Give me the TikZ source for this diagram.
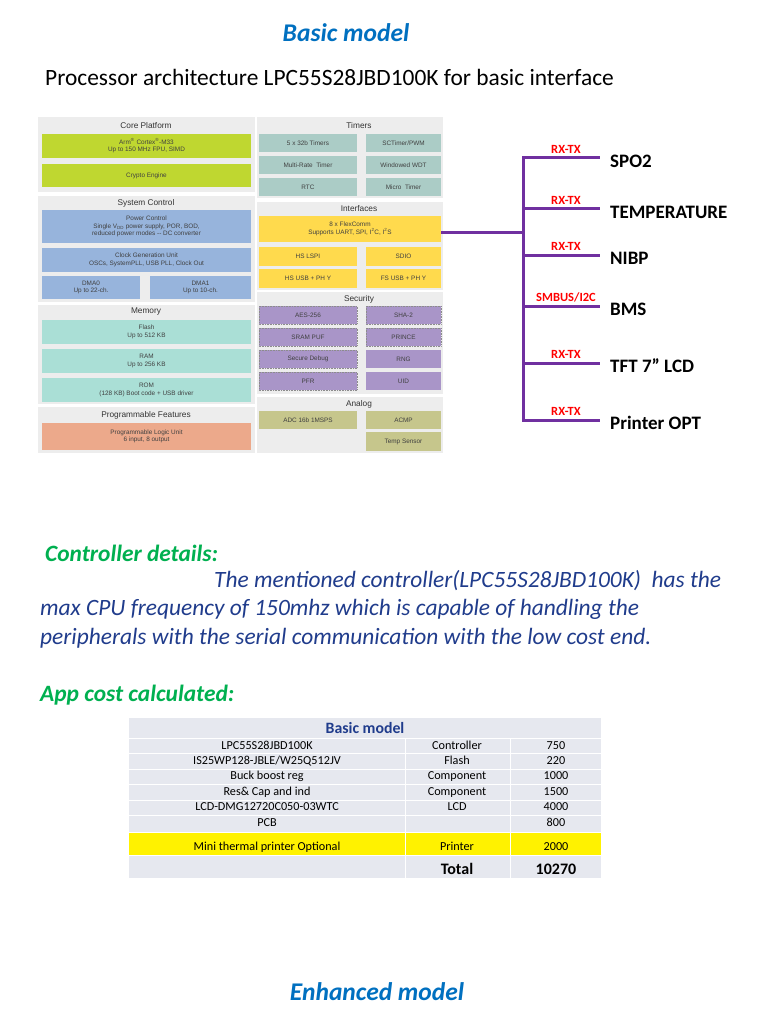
\documentclass[tikz,border=0pt]{standalone}
\usepackage{fontspec}
\setmainfont{Carlito}
\newfontfamily\arial{Liberation Sans}
\begin{document}
\begin{tikzpicture}[x=1pt,y=-1pt,
  tiny/.style={font=\arial\fontsize{6.4}{7.4}\selectfont, text=black!75, align=center, inner sep=0pt},
  hdr/.style={font=\arial\fontsize{8.3}{9}\selectfont, text=black!80, inner sep=0pt},
  lbl/.style={font=\bfseries\fontsize{19}{21}\selectfont, anchor=west, inner sep=0pt},
  red/.style={font=\bfseries\fontsize{12.5}{14}\selectfont, text=red, inner sep=0pt},
  bus/.style={draw=buspurple, line width=3pt},
  trow/.style={font=\fontsize{12.2}{14}\selectfont, inner sep=0pt, text height=8.5pt, text depth=2.5pt}]
\definecolor{panel}{HTML}{EDEDED}
\definecolor{cgreen}{HTML}{BFD730}
\definecolor{cblue}{HTML}{97B4DC}
\definecolor{cteal}{HTML}{AADFD6}
\definecolor{csalmon}{HTML}{ECA98B}
\definecolor{ctimer}{HTML}{ABCCC6}
\definecolor{cyellow}{HTML}{FFDA4D}
\definecolor{cpurple}{HTML}{A995C8}
\definecolor{colive}{HTML}{C6C68C}
\definecolor{buspurple}{HTML}{7030A0}
\definecolor{tblue}{HTML}{0070C0}
\definecolor{tgreen}{HTML}{00B050}
\definecolor{dblue}{HTML}{203C8C}
\definecolor{tbg}{HTML}{E6E8EF}
\useasboundingbox[fill=white] (0,0) rectangle (768,1024);
\newcommand\bx[6]{\fill[#5] (#1,#2) rectangle (#3,#4) node[midway,tiny]{#6};}
\newcommand\dbx[6]{\fill[#5] (#1,#2) rectangle (#3,#4) node[midway,tiny]{#6};\draw[black!45,densely dotted,line width=0.6pt] (#1,#2) rectangle (#3,#4);}
% titles
\node[font=\bfseries\itshape\fontsize{25.5}{28}\selectfont, text=tblue] (t1) at (346,33) {Basic model};
\node[anchor=west, font=\fontsize{23.4}{26}\selectfont, inner sep=0pt] (t2) at (45,77) {Processor architecture LPC55S28JBD100K for basic interface};
% left column panels
\fill[panel] (38,117) rectangle (255,192); \node[hdr] (h1) at (146,126) {Core Platform};
\bx{42}{134}{251}{158}{cgreen}{Arm\textsuperscript{®} Cortex\textsuperscript{®}-M33\\Up to 150 MHz FPU, SIMD}
\bx{42}{164}{251}{187}{cgreen}{Crypto Engine}
\fill[panel] (38,196) rectangle (255,302); \node[hdr] (h2) at (146,203) {System Control};
\bx{42}{210}{251}{243}{cblue}{Power Control\\Single V\textsubscript{DD} power supply, POR, BOD,\\reduced power modes -- DC converter}
\bx{42}{248}{251}{272}{cblue}{Clock Generation Unit\\OSCs, SystemPLL, USB PLL, Clock Out}
\bx{42}{276}{140}{299}{cblue}{DMA0\\Up to 22-ch.}
\bx{150}{276}{251}{299}{cblue}{DMA1\\Up to 10-ch.}
\fill[panel] (38,305) rectangle (255,404); \node[hdr] (h3) at (146,312) {Memory};
\bx{42}{320}{251}{344}{cteal}{Flash\\Up to 512 KB}
\bx{42}{349}{251}{373}{cteal}{RAM\\Up to 256 KB}
\bx{42}{378}{251}{402}{cteal}{ROM\\(128 KB) Boot code + USB driver}
\fill[panel] (38,407) rectangle (255,453); \node[hdr] (h4) at (146,415) {Programmable Features};
\bx{42}{423}{251}{450}{csalmon}{Programmable Logic Unit\\6 input, 8 output}
% right column
\fill[panel] (257,117) rectangle (443,198); \node[hdr] (h5) at (359,126) {Timers};
\bx{259}{134}{357}{152}{ctimer}{5 x 32b Timers}
\bx{366}{134}{441}{152}{ctimer}{SCTimer/PWM}
\bx{259}{156}{357}{174}{ctimer}{Multi-Rate\ \ Timer}
\bx{366}{156}{441}{174}{ctimer}{Windowed WDT}
\bx{259}{178}{357}{196}{ctimer}{RTC}
\bx{366}{178}{441}{196}{ctimer}{Micro\ \ Timer}
\fill[panel] (257,202) rectangle (443,290); \node[hdr] (h6) at (359,209) {Interfaces};
\fill[cyellow] (259,216) rectangle (441,242);
\node[tiny] (fc) at (350,229) {8 x FlexComm\\Supports UART, SPI, I\textsuperscript{2}C, I\textsuperscript{2}S};
\coordinate (fcout) at (441,233);
\bx{259}{247}{357}{266}{cyellow}{HS LSPI}
\bx{366}{247}{441}{266}{cyellow}{SDIO}
\bx{259}{269}{357}{288}{cyellow}{HS USB + PH Y}
\bx{366}{269}{441}{288}{cyellow}{FS USB + PH Y}
\fill[panel] (257,292) rectangle (443,394); \node[hdr] (h7) at (359,299) {Security};
\dbx{259}{306}{357}{324}{cpurple}{AES-256}
\dbx{366}{306}{441}{324}{cpurple}{SHA-2}
\dbx{259}{328}{357}{346}{cpurple}{SRAM PUF}
\dbx{366}{328}{441}{346}{cpurple}{PRINCE}
\dbx{259}{350}{357}{368}{cpurple}{Secure Debug}
\bx{366}{350}{441}{368}{cpurple}{RNG}
\dbx{259}{372}{357}{390}{cpurple}{PFR}
\bx{366}{372}{441}{390}{cpurple}{UID}
\fill[panel] (257,397) rectangle (443,453); \node[hdr] (h8) at (359,404) {Analog};
\bx{259}{411}{357}{429}{colive}{ADC 16b 1MSPS}
\bx{366}{411}{441}{429}{colive}{ACMP}
\bx{366}{432}{441}{451}{colive}{Temp Sensor}
% bus
\coordinate (jn) at (523,233);
\coordinate (top) at (523,158);
\coordinate (bot) at (523,420);
\draw[bus] (fcout) -- (jn);
\draw[bus,line cap=rect] (top) -- (bot);
\foreach \y/\n/\r/\t in {158/a/RX-TX/SPO2, 209/b/RX-TX/TEMPERATURE, 255/c/RX-TX/NIBP, 306/d/{SMBUS/I2C}/BMS, 363/e/RX-TX/{TFT 7” LCD}, 420/f/RX-TX/{Printer OPT}}{
  \coordinate (s\n) at (523,\y);
  \coordinate (e\n) at (600,\y);
  \draw[bus] (s\n) -- (e\n);
  \node[red] (r\n) at (566,\y-9) {\r};
  \node[lbl] (l\n) at (610,\y+3) {\t};
}
% controller details
\node[anchor=west, font=\bfseries\itshape\fontsize{23.4}{26}\selectfont, text=tgreen, inner sep=0pt] (cd) at (45,553) {Controller details:};
\begin{scope}[every node/.style={anchor=west, font=\itshape\fontsize{23.4}{26}\selectfont, text=dblue, inner sep=0pt}]
\node (p1) at (214,581) {The mentioned controller(LPC55S28JBD100K)\ \ has the};
\node (p2) at (40,609) {max CPU frequency of 150mhz which is capable of handling the};
\node (p3) at (40,638) {peripherals with the serial communication with the low cost end.};
\end{scope}
\node[anchor=west, font=\bfseries\itshape\fontsize{23.4}{26}\selectfont, text=tgreen, inner sep=0pt] (ac) at (40,695) {App cost calculated:};
% table
\fill[tbg] (129,718) rectangle (601,878);
\fill[yellow] (129,832) rectangle (601,855);
\foreach \y in {738,753,769,784,800,815,832,855}{\draw[white,line width=1pt] (129,\y) -- (601,\y);}
\draw[white,line width=1pt] (405,738) -- (405,878);
\draw[white,line width=1pt] (510,738) -- (510,878);
\node[font=\bfseries\fontsize{15.8}{17}\selectfont, text=dblue] (th) at (365,728) {Basic model};
\foreach \y/\a/\b/\c [count=\i] in {746/LPC55S28JBD100K/Controller/750, 761/{IS25WP128-JBLE/W25Q512JV}/Flash/220, 776/Buck boost reg/Component/1000, 792/Res\& Cap and ind/Component/1500, 807/LCD-DMG12720C050-03WTC/LCD/4000, 823/PCB//800, 847/Mini thermal printer Optional/Printer/2000}{
  \node[trow] (ta\i) at (267,\y) {\a};
  \node[trow] (tb\i) at (457,\y) {\b};
  \node[trow] (tc\i) at (556,\y) {\c};
}
\node[font=\bfseries\fontsize{16}{18}\selectfont] (tt) at (457,869) {Total};
\node[font=\bfseries\fontsize{16}{18}\selectfont] (tv) at (556,869) {10270};
\node[font=\bfseries\itshape\fontsize{25.5}{28}\selectfont, text=tblue] (t3) at (377,992) {Enhanced model};
\end{tikzpicture}
\end{document}
